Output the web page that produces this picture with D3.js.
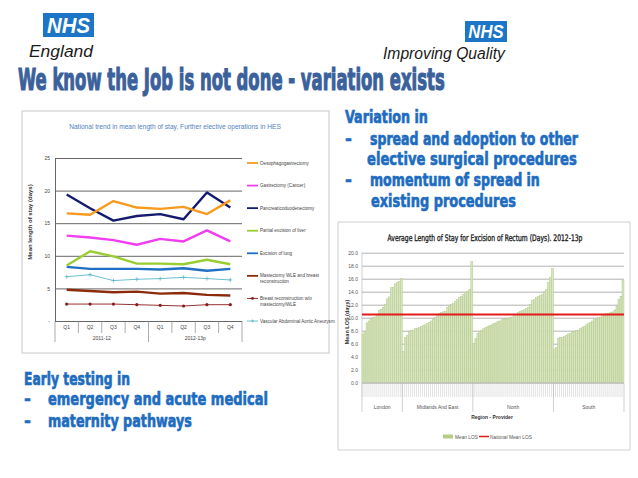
<!DOCTYPE html>
<html>
<head>
<meta charset="utf-8">
<script src="https://cdn.jsdelivr.net/npm/d3@7"></script>
<style>
  body { margin: 0; background: #fff; }
  svg { display: block; font-family: "Liberation Sans", Arial, sans-serif; }
</style>
</head>
<body>
<svg id="slide" width="638" height="478"></svg>
<script>
// ---- left chart data: national trend, mean LOS (days) ----
var quarters = ['Q1', 'Q2', 'Q3', 'Q4', 'Q1', 'Q2', 'Q3', 'Q4'];
var years = ['2011-12', '2012-13p'];
var procedures = [
  'Oesophagogastrectomy',
  'Gastrectomy (Cancer)',
  'Pancreaticoduodenectomy',
  'Partial excision of liver',
  'Excision of lung',
  'Mastectomy WLE and breast reconstruction',
  'Breast reconstruction w/o mastectomy/WLE',
  'Vascular Abdominal Aortic Aneurysm'
];
var oesophagogastrectomy = [16.5, 16.3, 18.4, 17.4, 17.2, 17.5, 16.4, 18.5];
var gastrectomy = [13.1, 12.8, 12.4, 11.7, 12.6, 12.2, 13.9, 12.2];
var pancreaticoduodenectomy = [19.4, 17.3, 15.4, 16.1, 16.4, 15.6, 19.7, 17.4];
var partialExcisionLiver = [8.5, 10.7, 9.9, 8.8, 8.8, 8.7, 9.4, 8.7];
var excisionLung = [8.3, 8.0, 8.0, 8.0, 7.9, 8.1, 7.7, 8.0];
var mastectomyReconstruction = [4.8, 4.6, 4.4, 4.5, 4.2, 4.3, 4.0, 3.9];
var breastReconstruction = [2.6, 2.6, 2.6, 2.5, 2.4, 2.3, 2.5, 2.5];
var vascularAAA = [6.8, 7.1, 6.2, 6.4, 6.5, 6.7, 6.5, 6.3];

// ---- right chart data: LOS for excision of rectum by provider, 2012-13p ----
var regions = ['London', 'Midlands And East', 'North', 'South'];
var londonLOS = [7.5, 7.9, 9.2, 9.5, 9.8, 10.0, 10.1, 10.3, 11.1, 11.3, 11.6, 12.0, 12.9, 13.2, 14.6, 14.7, 15.2, 15.4, 15.6, 16.0];
var midlandsLOS = [4.8, 7.0, 7.3, 7.9, 8.0, 8.1, 8.3, 8.4, 8.5, 8.6, 8.8, 8.9, 9.1, 9.3, 9.5, 9.8, 10.0, 10.3, 10.6, 10.8,
  10.9, 11.0, 11.6, 11.8, 12.0, 12.2, 12.5, 12.8, 13.1, 13.3, 13.6, 13.9, 14.1, 14.4, 18.6];
var northLOS = [6.0, 6.8, 7.6, 7.9, 8.1, 8.3, 8.5, 8.6, 8.8, 8.9, 9.1, 9.2, 9.4, 9.5, 9.7, 9.8, 9.8, 9.9, 10.0, 10.1,
  10.3, 10.5, 10.8, 11.0, 11.1, 11.2, 11.4, 11.6, 12.0, 12.6, 12.8, 13.1, 13.3, 13.4, 13.6, 14.0, 14.3, 15.4, 16.2, 17.6];
var southLOS = [5.2, 5.4, 6.8, 7.0, 7.0, 7.1, 7.3, 7.5, 7.6, 7.8, 7.9, 8.0, 8.1, 8.3, 8.5, 8.7, 8.9, 9.1, 9.3, 9.5,
  9.7, 9.8, 10.0, 10.1, 10.3, 10.4, 10.6, 10.7, 10.8, 10.9, 11.2, 11.8, 12.8, 13.3, 15.8];
var nationalMeanLOS = 10.5;

var svg = d3.select('#slide');
var HEAVY = '"Liberation Sans Narrow", "DejaVu Sans Condensed", sans-serif';

// text sized from the wanted width, then stretched to the wanted cap height
function fitText(parent, x, y, w, cap, t, o) {
  o = o || {};
  var el = parent.append('text')
    .style('font-family', o.family || HEAVY).style('font-weight', o.weight || 'bold')
    .style('font-style', o.style || 'normal').style('font-size', '20px')
    .attr('text-anchor', o.anchor || 'start')
    .text(t);
  var natural = el.node().getComputedTextLength();
  var fs = 20 * w / natural;
  var sy = cap / (0.72 * fs);
  el.style('font-size', fs + 'px')
    .attr('transform', 'translate(' + x + ',' + y + ') scale(1,' + sy + ')')
    .style('fill', o.color || '#000');
  if (o.stroke) el.style('stroke', o.color).style('stroke-width', o.stroke);
  return el;
}

//---------------------------------------------------------------------------------------
// SLIDE HEADER AND TEXT
//---------------------------------------------------------------------------------------

function nhsLogo(x, y, w, h) {
  svg.append('rect').attr('x', x).attr('y', y).attr('width', w).attr('height', h).style('fill', '#1c75c6');
  fitText(svg, x + w / 2, y + h * 0.83, w * 0.84, h * 0.66, 'NHS',
    {family: '"Liberation Sans", Arial, sans-serif', style: 'italic', anchor: 'middle', color: '#fff'});
}
nhsLogo(43, 13, 51, 24);
nhsLogo(465, 21, 42, 21);

fitText(svg, 29, 57, 64, 12, 'England',
  {family: '"Liberation Sans", Arial, sans-serif', weight: 'normal', style: 'italic', color: '#1a1a1a'});
fitText(svg, 383, 59, 122, 12, 'Improving Quality',
  {family: '"Liberation Sans", Arial, sans-serif', weight: 'normal', style: 'italic', color: '#1a1a1a'});

fitText(svg, 18, 90, 427, 22, 'We know the Job is not done - variation exists', {color: '#3a619b', stroke: 0.7});

var bulletLines = [
  {x: 345, y: 123, w: 83, t: 'Variation in'},
  {x: 345, y: 145, w: 7, t: '-'},
  {x: 370, y: 145, w: 208, t: 'spread and adoption to other'},
  {x: 367, y: 165, w: 210, t: 'elective surgical procedures'},
  {x: 345, y: 186, w: 7, t: '-'},
  {x: 370, y: 186, w: 170, t: 'momentum of spread in'},
  {x: 371, y: 207, w: 145, t: 'existing procedures'},
  {x: 24, y: 385, w: 106, t: 'Early testing in'},
  {x: 24, y: 405, w: 7, t: '-'},
  {x: 48, y: 405, w: 220, t: 'emergency and acute medical'},
  {x: 24, y: 427, w: 7, t: '-'},
  {x: 48, y: 427, w: 144, t: 'maternity pathways'}
];
bulletLines.forEach(function (d) {
  fitText(svg, d.x, d.y, d.w, 13.3, d.t, {color: '#1e6cc0', stroke: 0.5});
});

//---------------------------------------------------------------------------------------
// LEFT CHART - NATIONAL TREND
//---------------------------------------------------------------------------------------

var left = svg.append('g');
left.append('rect').attr('x', 22).attr('y', 111).attr('width', 307).attr('height', 242)
  .style('fill', '#fff').style('stroke', '#c8c8c8');

fitText(left, 175, 129, 212, 5.5, 'National trend in mean length of stay, Further elective operations in HES',
  {family: '"Liberation Sans", Arial, sans-serif', weight: 'normal', anchor: 'middle', color: '#4f81bd'});

var lx = d3.scaleBand().domain(d3.range(quarters.length)).range([55, 242]);
var ly = d3.scaleLinear().domain([0, 25]).range([321, 158]);

var lGrid = left.append('g').attr('transform', 'translate(55,0)')
  .call(d3.axisLeft(ly).tickValues([0, 5, 10, 15, 20, 25]).tickSize(-187)
    .tickFormat(function (d) { return d === 0 ? '-' : d; }));
lGrid.select('.domain').style('stroke', '#666');
lGrid.selectAll('.tick line').style('stroke', '#666');
lGrid.selectAll('.tick text').attr('x', -5).style('font-size', '5px').style('fill', '#444');

left.append('text').attr('transform', 'translate(32,222) rotate(-90)').attr('text-anchor', 'middle')
  .style('font-size', '6px').style('font-weight', 'bold').style('fill', '#333')
  .text('Mean length of stay (days)');

// category axis: quarter ticks, then year groups
var qBounds = d3.range(quarters.length + 1).map(function (i) {
  return i < quarters.length ? lx(i) : lx(i - 1) + lx.bandwidth();
});
left.selectAll('.qtick').data(qBounds).enter().append('line')
  .attr('x1', function (d) { return d; }).attr('x2', function (d) { return d; })
  .attr('y1', 321)
  .attr('y2', function (d, i) { return i % 4 === 0 ? 342 : 333; })
  .style('stroke', '#888').style('stroke-width', 0.7);
left.selectAll('.qlabel').data(quarters).enter().append('text')
  .attr('x', function (d, i) { return lx(i) + lx.bandwidth() / 2; })
  .attr('y', 329).attr('text-anchor', 'middle')
  .style('font-size', '5px').style('fill', '#444')
  .text(function (d) { return d; });
left.selectAll('.ylabel').data(years).enter().append('text')
  .attr('x', function (d, i) { return lx(i * 4) + lx.bandwidth() * 2; })
  .attr('y', 340).attr('text-anchor', 'middle')
  .style('font-size', '5px').style('fill', '#444')
  .text(function (d) { return d; });

var lSeries = [
  {values: oesophagogastrectomy, color: '#f79a1e', width: 2.4},
  {values: gastrectomy, color: '#f03ef0', width: 2.4},
  {values: pancreaticoduodenectomy, color: '#141a6e', width: 2.4},
  {values: partialExcisionLiver, color: '#9acd32', width: 2.4},
  {values: excisionLung, color: '#1f6fc5', width: 2.4},
  {values: mastectomyReconstruction, color: '#8b2b0c', width: 2.4},
  {values: breastReconstruction, color: '#8b1a1a', width: 0.9, marker: 'dot'},
  {values: vascularAAA, color: '#5bb8cc', width: 0.9, marker: 'plus'}
];
lSeries.forEach(function (s, k) { s.name = procedures[k]; });

var line = d3.line()
  .x(function (d, i) { return lx(i) + lx.bandwidth() / 2; })
  .y(function (d) { return ly(d); });

// thin series underneath, first legend entries on top
lSeries.slice().reverse().forEach(function (s) {
  left.append('path').datum(s.values).attr('d', line)
    .style('fill', 'none').style('stroke', s.color).style('stroke-width', s.width)
    .style('stroke-linejoin', 'round');
  if (s.marker === 'dot') {
    left.selectAll(null).data(s.values).enter().append('circle')
      .attr('cx', function (d, i) { return lx(i) + lx.bandwidth() / 2; })
      .attr('cy', function (d) { return ly(d); })
      .attr('r', 1.6).style('fill', s.color);
  }
  if (s.marker === 'plus') {
    left.selectAll(null).data(s.values).enter().append('path')
      .attr('transform', function (d, i) { return 'translate(' + (lx(i) + lx.bandwidth() / 2) + ',' + ly(d) + ')'; })
      .attr('d', 'M-2,0H2M0,-2V2').style('stroke', s.color).style('stroke-width', 0.8);
  }
});

// legend
var legendY = d3.scalePoint().domain(d3.range(procedures.length)).range([163, 321]);
var legendSplit = {5: ['Mastectomy WLE and breast', 'reconstruction'], 6: ['Breast reconstruction w/o', 'mastectomy/WLE']};
lSeries.forEach(function (s, k) {
  var y = legendY(k);
  left.append('line').attr('x1', 247).attr('x2', 258).attr('y1', y).attr('y2', y)
    .style('stroke', s.color).style('stroke-width', s.width > 1 ? 1.8 : 0.9);
  if (s.marker === 'dot') left.append('circle').attr('cx', 252.5).attr('cy', y).attr('r', 1.4).style('fill', s.color);
  if (s.marker === 'plus') left.append('path').attr('transform', 'translate(252.5,' + y + ')')
    .attr('d', 'M-1.6,0H1.6M0,-1.6V1.6').style('stroke', s.color).style('stroke-width', 0.7);
  var lines = legendSplit[k] || [s.name];
  lines.forEach(function (t, j) {
    left.append('text').attr('x', 260).attr('y', y + 1.6 + j * 5.5)
      .style('font-size', '4.6px').style('fill', '#444').text(t);
  });
});

//---------------------------------------------------------------------------------------
// RIGHT CHART - LOS FOR EXCISION OF RECTUM BY PROVIDER
//---------------------------------------------------------------------------------------

var right = svg.append('g');
right.append('rect').attr('x', 338).attr('y', 222).attr('width', 292).attr('height', 228)
  .style('fill', '#fff').style('stroke', '#d0d0d0');

fitText(right, 485, 241, 195, 6.5, 'Average Length of Stay for Excision of Rectum (Days). 2012-13p',
  {weight: 'normal', anchor: 'middle', color: '#222', stroke: 0.25});

var regionValues = [londonLOS, midlandsLOS, northLOS, southLOS];
var providers = [];
regionValues.forEach(function (vals, r) {
  vals.forEach(function (v, i) {
    providers.push({key: regions[r] + '-' + i, region: regions[r], value: v});
  });
});

var rx = d3.scaleBand().domain(providers.map(function (d) { return d.key; })).range([362, 624]);
var ry = d3.scaleLinear().domain([0, 20]).range([382.7, 252.7]);

var rGrid = right.append('g').attr('transform', 'translate(362,0)')
  .call(d3.axisLeft(ry).ticks(10).tickSize(-262).tickFormat(d3.format('.1f')));
rGrid.select('.domain').remove();
rGrid.selectAll('.tick line').style('stroke', '#a0a0a0').style('stroke-width', 0.8);
rGrid.selectAll('.tick text').attr('x', -4).style('font-size', '5px').style('fill', '#555');

right.append('line').attr('x1', 362).attr('x2', 362).attr('y1', 252.7).attr('y2', 382.7)
  .style('stroke', '#bbb').style('stroke-width', 0.7);

right.selectAll('.bar').data(providers, function (d) { return d.key; })
  .enter().append('rect')
  .attr('class', 'bar')
  .attr('x', function (d) { return rx(d.key); })
  .attr('y', function (d) { return ry(d.value); })
  .attr('width', rx.bandwidth())
  .attr('height', function (d) { return ry(0) - ry(d.value); })
  .style('fill', '#d7e4bd').style('stroke', '#a9c47f').style('stroke-width', 0.4);

right.append('line')
  .attr('x1', 362).attr('x2', 624)
  .attr('y1', ry(nationalMeanLOS)).attr('y2', ry(nationalMeanLOS))
  .style('stroke', '#e41a1a').style('stroke-width', 2);

// provider ticks (unlabelled) and region groups
right.selectAll('.ptick').data(providers).enter().append('line')
  .attr('x1', function (d) { return rx(d.key); }).attr('x2', function (d) { return rx(d.key); })
  .attr('y1', 382.7).attr('y2', 397)
  .style('stroke', '#c4c4c4').style('stroke-width', 0.5);
right.append('line').attr('x1', 362).attr('x2', 624).attr('y1', 382.7).attr('y2', 382.7)
  .style('stroke', '#bbb').style('stroke-width', 0.7);

var start = 0;
var groups = regionValues.map(function (vals, r) {
  var g = {name: regions[r], x0: rx(providers[start].key), x1: rx(providers[start + vals.length - 1].key) + rx.bandwidth()};
  start += vals.length;
  return g;
});
var groupEdges = [groups[0].x0].concat(groups.map(function (g) { return g.x1; }));
right.selectAll('.gsep').data(groupEdges).enter().append('line')
  .attr('x1', function (d) { return d; }).attr('x2', function (d) { return d; })
  .attr('y1', 382.7).attr('y2', 412)
  .style('stroke', '#bbb').style('stroke-width', 0.7);
right.selectAll('.glabel').data(groups).enter().append('text')
  .attr('x', function (d) { return (d.x0 + d.x1) / 2; })
  .attr('y', 408.5).attr('text-anchor', 'middle')
  .style('font-size', '5px').style('fill', '#555')
  .text(function (d) { return d.name; });

right.append('text').attr('x', 492).attr('y', 418.5).attr('text-anchor', 'middle')
  .style('font-size', '5px').style('font-weight', 'bold').style('fill', '#333').text('Region - Provider');

right.append('text').attr('transform', 'translate(348.5,322) rotate(-90)').attr('text-anchor', 'middle')
  .style('font-size', '5.5px').style('font-weight', 'bold').style('fill', '#333').text('Mean LOS (days)');

right.append('rect').attr('x', 443).attr('y', 434.5).attr('width', 10).attr('height', 4)
  .style('fill', '#b5cc85');
right.append('text').attr('x', 455).attr('y', 438.5).style('font-size', '4.8px').style('fill', '#555').text('Mean LOS');
right.append('line').attr('x1', 479).attr('x2', 489).attr('y1', 436.5).attr('y2', 436.5)
  .style('stroke', '#e41a1a').style('stroke-width', 1.5);
right.append('text').attr('x', 490).attr('y', 438.5).style('font-size', '4.8px').style('fill', '#555').text('National Mean LOS');
</script>
</body>
</html>
